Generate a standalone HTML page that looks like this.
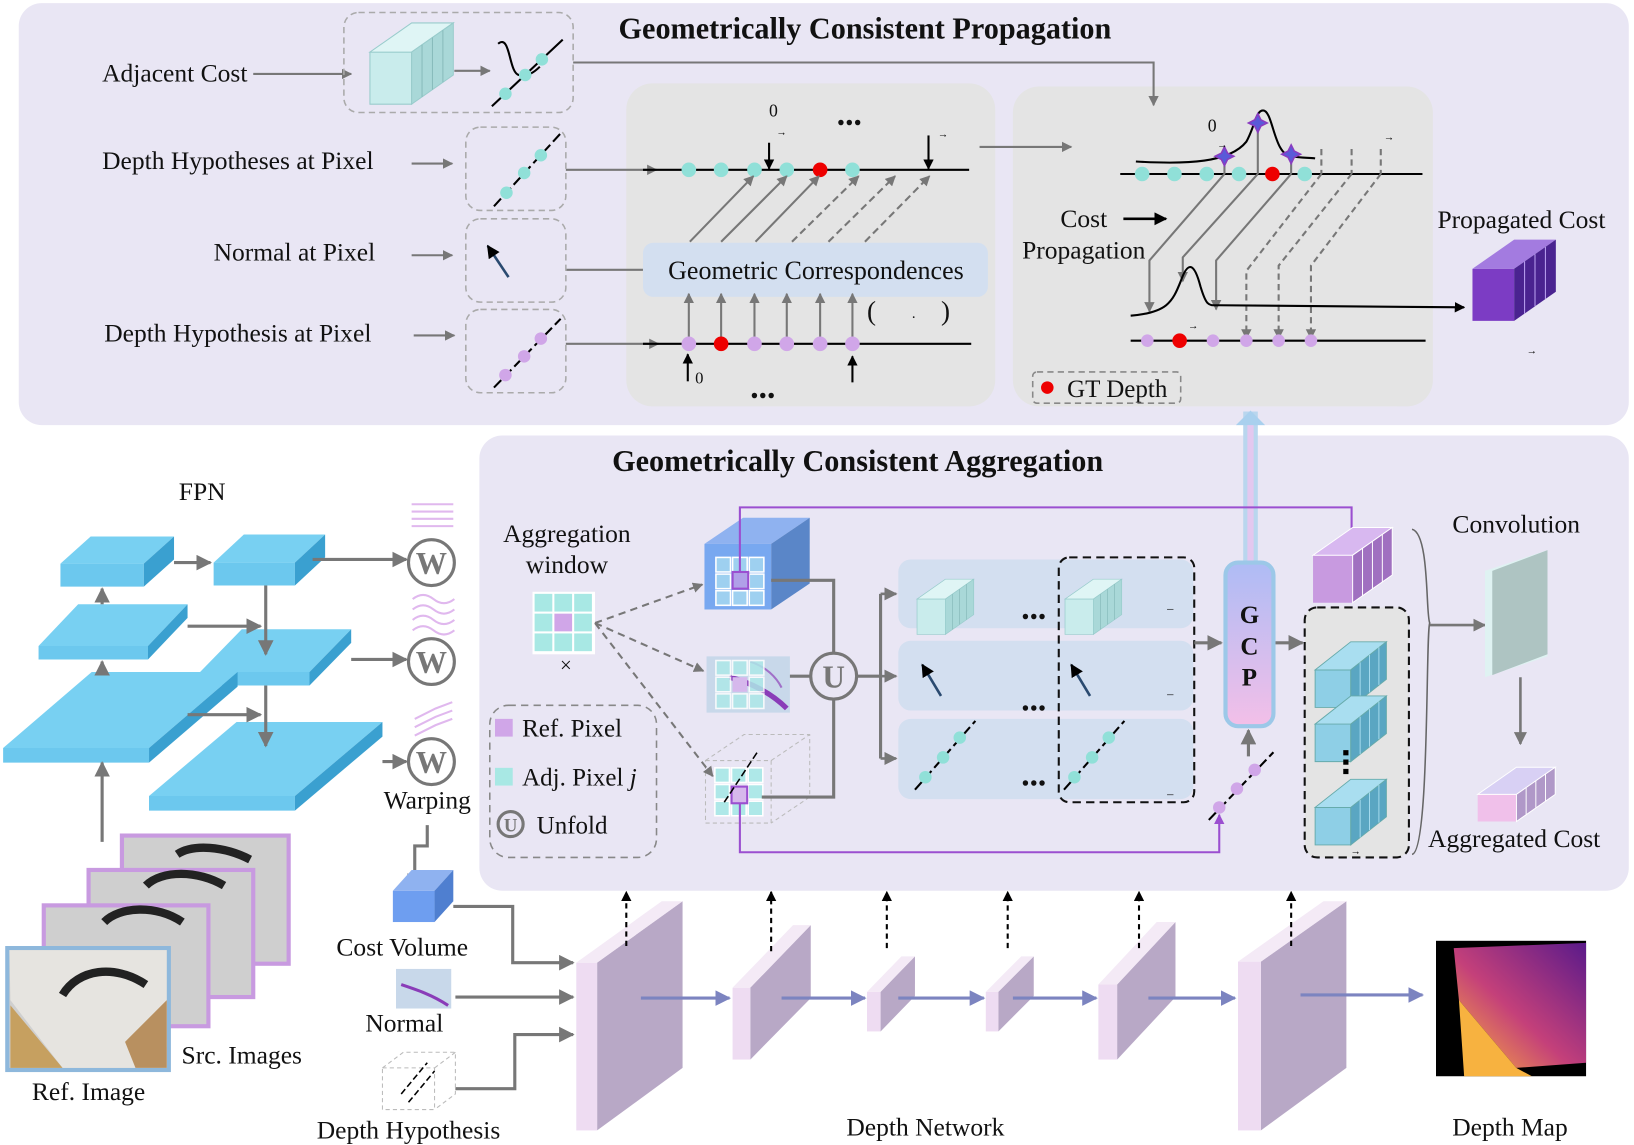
<!DOCTYPE html>
<html><head><meta charset="utf-8"><style>html,body{margin:0;padding:0;background:#fff}svg{display:block}text{font-family:"Liberation Serif",serif;fill:#111}</style></head><body>
<svg width="1634" height="1145" viewBox="0 0 1568 1099" preserveAspectRatio="none" xmlns="http://www.w3.org/2000/svg">
<defs>
<marker id="ag" viewBox="0 0 10 10" refX="9" refY="5" markerWidth="5" markerHeight="5" orient="auto"><path d="M0,0L10,5L0,10z" fill="#777"/></marker>
<marker id="ak" viewBox="0 0 10 10" refX="9" refY="5" markerWidth="5" markerHeight="5" orient="auto"><path d="M0,0L10,5L0,10z" fill="#000"/></marker>
<marker id="ap" viewBox="0 0 10 10" refX="9" refY="5" markerWidth="5" markerHeight="5" orient="auto"><path d="M0,0L10,5L0,10z" fill="#9b4fd0"/></marker>
<marker id="ab" viewBox="0 0 10 10" refX="9" refY="5" markerWidth="5" markerHeight="5" orient="auto"><path d="M0,0L10,5L0,10z" fill="#7c84c0"/></marker>
<linearGradient id="gcp" x1="0" y1="0" x2="0" y2="1"><stop offset="0" stop-color="#aebcf5"/><stop offset="1" stop-color="#f3bfe8"/></linearGradient>
<linearGradient id="dm" x1="0" y1="1" x2="1" y2="0"><stop offset="0" stop-color="#fcb33a"/><stop offset="0.45" stop-color="#c4407a"/><stop offset="1" stop-color="#5a1a8a"/></linearGradient>
<g id="tstack"><polygon points="0,22 40,22 40,72 0,72" fill="#c9ecec" stroke="#9cc" /><polygon points="0,22 40,22 80,-6 40,-6" fill="#dff5f5" stroke="#9cc"/><polygon points="40,22 80,-6 80,44 40,72" fill="#a9d8d8" stroke="#9cc"/><path d="M50,15v50M60,8v50M70,1v50" stroke="#8bb" fill="none"/></g>
<g id="bstack"><polygon points="0,20 38,20 38,60 0,60" fill="#8ecfe6" stroke="#6aa"/><polygon points="0,20 38,20 76,-10 38,-10" fill="#a9def0" stroke="#6aa"/><polygon points="38,20 76,-10 76,30 38,60" fill="#5aa6c2" stroke="#6aa"/><path d="M48,12v40M58,4v40M68,-4v40" stroke="#a9def0" fill="none"/></g>
<g id="pstack"><polygon points="0,22 40,22 40,72 0,72" fill="#7c3cc4" /><polygon points="0,22 40,22 80,-6 40,-6" fill="#a37be0"/><polygon points="40,22 80,-6 80,44 40,72" fill="#4a2390"/><path d="M50,15v50M60,8v50M70,1v50" stroke="#b9a0f0" fill="none"/></g>
</defs>
<rect width="1568" height="1099" fill="#fff"/>
<!-- top panel -->
<rect x="18" y="3" width="1545" height="405" rx="22" fill="#e9e6f4"/>
<rect x="601" y="80" width="354" height="310" rx="25" fill="#e4e4e4"/>
<rect x="972" y="83" width="403" height="307" rx="25" fill="#e4e4e4"/>
<text x="830" y="37" font-size="29" font-weight="bold" text-anchor="middle">Geometrically Consistent Propagation</text>
<g font-size="24.5">
<text x="98" y="78">Adjacent Cost</text>
<text x="98" y="162">Depth Hypotheses at Pixel</text>
<text x="205" y="250">Normal at Pixel</text>
<text x="100" y="328">Depth Hypothesis at Pixel</text>
</g>
<g stroke="#777" stroke-width="2" fill="none" marker-end="url(#ag)">
<path d="M243,71H337"/><path d="M395,157H434"/><path d="M395,245H434"/><path d="M397,322H436"/>
<path d="M550,60H1107V101"/><path d="M543,163H630"/><path d="M543,259H632"/><path d="M543,330H632"/><path d="M940,141H1028"/>
</g>
<g fill="none" stroke="#aaa" stroke-width="1.5" stroke-dasharray="6,4">
<rect x="330" y="12" width="220" height="96" rx="14"/><rect x="447" y="122" width="96" height="80" rx="14"/><rect x="447" y="210" width="96" height="80" rx="14"/><rect x="447" y="297" width="96" height="80" rx="14"/>
</g>
<use href="#tstack" x="355" y="28"/>
<path d="M436,68H470" stroke="#777" stroke-width="2" marker-end="url(#ag)"/>
<path d="M472,102L540,38" stroke="#000" stroke-width="2"/><path d="M478,42C490,32 488,70 498,72C505,74 512,70 518,64" stroke="#000" stroke-width="2" fill="none"/>
<g fill="#90e0d8"><circle cx="485" cy="90" r="6"/><circle cx="504" cy="72" r="6"/><circle cx="520" cy="57" r="6"/></g>
<path d="M474,198L538,128" stroke="#000" stroke-width="2" stroke-dasharray="10,4"/>
<g fill="#90e0d8"><circle cx="486" cy="185" r="6"/><circle cx="503" cy="166" r="6"/><circle cx="519" cy="149" r="6"/></g>
<path d="M488,266L468,236" stroke="#2a4a70" stroke-width="2.5" marker-end="url(#ak)"/>
<path d="M474,372L538,306" stroke="#000" stroke-width="2" stroke-dasharray="10,4"/>
<g fill="#d0a6e8"><circle cx="485" cy="360" r="6"/><circle cx="503" cy="342" r="6"/><circle cx="519" cy="325" r="6"/></g>
<!-- middle gray panel content -->
<path d="M617,163H930" stroke="#000" stroke-width="2"/>
<g fill="#90e0d8"><circle cx="661" cy="163" r="7"/><circle cx="692" cy="163" r="7"/><circle cx="724" cy="163" r="7"/><circle cx="755" cy="163" r="7"/><circle cx="818" cy="163" r="7"/></g>
<circle cx="787" cy="163" r="7" fill="#e00"/>
<g stroke="#000" stroke-width="2" marker-end="url(#ak)"><path d="M738,137V162"/><path d="M891,130V162"/></g>
<text x="738" y="112" font-size="17" font-family="Liberation Sans">0</text>
<text x="803" y="120" font-size="32" font-weight="bold">...</text>
<text x="745" y="130" font-size="10">→</text><text x="900" y="132" font-size="10">→</text>
<g stroke="#777" stroke-width="2" fill="none" marker-end="url(#ag)">
<path d="M662,232L723,169"/><path d="M692,232L755,169"/><path d="M725,232L786,169"/>
<path d="M760,232L824,169" stroke-dasharray="7,4"/><path d="M795,232L859,169" stroke-dasharray="7,4"/><path d="M830,232L892,169" stroke-dasharray="7,4"/>
</g>
<rect x="617" y="233" width="331" height="52" rx="10" fill="#d3dff0"/>
<text x="783" y="268" font-size="25" text-anchor="middle">Geometric Correspondences</text>
<g stroke="#777" stroke-width="2" marker-end="url(#ag)"><path d="M661,330V282"/><path d="M692,330V282"/><path d="M724,330V282"/><path d="M755,330V282"/><path d="M787,330V282"/><path d="M818,330V282"/></g>
<text x="832" y="307" font-size="26">(</text><text x="875" y="305" font-size="14">.</text><text x="903" y="307" font-size="26">)</text>
<path d="M617,330H932" stroke="#000" stroke-width="2"/>
<g fill="#d0a6e8"><circle cx="661" cy="330" r="7"/><circle cx="724" cy="330" r="7"/><circle cx="755" cy="330" r="7"/><circle cx="787" cy="330" r="7"/><circle cx="818" cy="330" r="7"/></g>
<circle cx="692" cy="330" r="7" fill="#e00"/>
<g stroke="#000" stroke-width="2" marker-end="url(#ak)"><path d="M660,366V340"/><path d="M818,367V342"/></g>
<text x="667" y="368" font-size="16" font-family="Liberation Sans">0</text>
<text x="720" y="382" font-size="32" font-weight="bold">...</text>
<!-- right gray panel content -->
<path d="M1075,167H1365" stroke="#000" stroke-width="2"/>
<path d="M1090,155C1140,158 1180,156 1196,136C1204,122 1205,106 1212,106C1222,106 1222,150 1240,150C1250,152 1255,151 1262,152" stroke="#000" stroke-width="2" fill="none"/>
<g stroke="#777" stroke-width="2"><path d="M1175,150V167"/><path d="M1207,118V167"/><path d="M1239,148V167"/></g>
<g stroke="#777" stroke-width="2" stroke-dasharray="6,4"><path d="M1268,143V167"/><path d="M1297,143V167"/><path d="M1325,143V167"/></g>
<g fill="#90e0d8"><circle cx="1096" cy="167" r="7"/><circle cx="1127" cy="167" r="7"/><circle cx="1158" cy="167" r="7"/><circle cx="1189" cy="167" r="7"/><circle cx="1252" cy="167" r="7"/></g>
<circle cx="1221" cy="167" r="7" fill="#e00"/>
<g fill="#5a5ad8" stroke="#8a3cc0" stroke-width="1.5"><polygon points="1175,141 1178,147 1184,150 1178,153 1175,159 1172,153 1166,150 1172,147"/><polygon points="1207,109 1210,115 1216,118 1210,121 1207,127 1204,121 1198,118 1204,115"/><polygon points="1239,139 1242,145 1248,148 1242,151 1239,157 1236,151 1230,148 1236,145"/></g>
<text x="1159" y="126" font-size="17" font-family="Liberation Sans">0</text>
<text x="1168" y="142" font-size="10">→</text><text x="1328" y="135" font-size="10">→</text>
<text x="1040" y="218" font-size="24.5" text-anchor="middle">Cost</text>
<text x="1040" y="248" font-size="24.5" text-anchor="middle">Propagation</text>
<path d="M1078,210H1119" stroke="#000" stroke-width="2.5" marker-end="url(#ak)"/>
<g stroke="#777" stroke-width="2" fill="none" marker-end="url(#ag)">
<path d="M1175,167L1103,250V299"/><path d="M1207,167L1135,247V270"/><path d="M1239,167L1167,250V297"/>
<g stroke-dasharray="6,4"><path d="M1268,167L1196,260V325"/><path d="M1297,167L1227,255V325"/><path d="M1325,167L1258,255V325"/></g>
</g>
<path d="M1085,303C1120,300 1125,290 1133,270C1140,250 1146,252 1152,275C1158,295 1160,293 1170,293L1405,295" stroke="#000" stroke-width="2" fill="none" marker-end="url(#ak)"/>
<path d="M1085,327H1368" stroke="#000" stroke-width="2"/>
<g fill="#d0a6e8"><circle cx="1101" cy="327" r="6"/><circle cx="1164" cy="327" r="6"/><circle cx="1196" cy="327" r="6"/><circle cx="1227" cy="327" r="6"/><circle cx="1258" cy="327" r="6"/></g>
<circle cx="1132" cy="327" r="7" fill="#e00"/>
<text x="1140" y="316" font-size="10">→</text>
<rect x="991" y="357" width="142" height="30" rx="4" fill="none" stroke="#888" stroke-width="1.5" stroke-dasharray="6,4"/>
<circle cx="1005" cy="372" r="6" fill="#e00"/>
<text x="1024" y="381" font-size="24">GT Depth</text>
<text x="1460" y="219" font-size="24.5" text-anchor="middle">Propagated Cost</text>
<use href="#pstack" x="1413" y="236"/>
<text x="1465" y="340" font-size="10">→</text>
<!-- lower panel -->
<rect x="460" y="418" width="1103" height="437" rx="22" fill="#e9e6f4"/>
<text x="823" y="452" font-size="29" font-weight="bold" text-anchor="middle">Geometrically Consistent Aggregation</text>
<rect x="1193" y="395" width="14" height="150" fill="#b9d6ee"/><rect x="1197" y="400" width="6" height="145" fill="#e3c8ef"/>
<polygon points="1186,408 1200,394 1214,408" fill="#a9d0ee"/>
<text x="544" y="520" font-size="24.5" text-anchor="middle">Aggregation</text>
<text x="544" y="550" font-size="24.5" text-anchor="middle">window</text>
<rect x="511" y="568" width="60" height="60" fill="#fff"/>
<g fill="#a8e8e4"><rect x="513" y="570" width="17" height="17"/><rect x="532" y="570" width="17" height="17"/><rect x="551" y="570" width="17" height="17"/><rect x="513" y="589" width="17" height="17"/><rect x="551" y="589" width="17" height="17"/><rect x="513" y="608" width="17" height="17"/><rect x="532" y="608" width="17" height="17"/><rect x="551" y="608" width="17" height="17"/></g>
<rect x="532" y="589" width="17" height="17" fill="#d0a6e8"/>
<text x="543" y="645" font-size="20" text-anchor="middle" font-family="Liberation Sans">×</text>
<!-- blue cube -->
<polygon points="676,522 740,522 777,497 713,497" fill="#8fb2f0"/><polygon points="740,522 777,497 777,560 740,585" fill="#5a86c8"/><rect x="676" y="522" width="64" height="63" fill="#78a8f0"/>
<g fill="#9ed0f0" stroke="#fff" stroke-width="1.5"><rect x="687" y="535" width="14" height="14"/><rect x="703" y="535" width="14" height="14"/><rect x="719" y="535" width="14" height="14"/><rect x="687" y="551" width="14" height="14"/><rect x="719" y="551" width="14" height="14"/><rect x="687" y="567" width="14" height="14"/><rect x="703" y="567" width="14" height="14"/><rect x="719" y="567" width="14" height="14"/></g>
<rect x="703" y="549" width="15" height="16" fill="#b0a0e8" stroke="#9b4fd0" stroke-width="2"/>
<path d="M710,549V487H1297V520" stroke="#9b4fd0" stroke-width="2" fill="none" marker-end="url(#ap)"/>
<!-- normal img -->
<rect x="678" y="630" width="80" height="54" fill="#c8d8ea"/>
<path d="M700,650C720,655 740,665 755,680" stroke="#8a3cb8" stroke-width="5" fill="none"/><path d="M720,635C735,640 745,650 750,660" stroke="#a070c8" stroke-width="2" fill="none"/>
<g fill="#aee8e8" stroke="#fff" stroke-width="1.5" opacity="0.85"><rect x="687" y="634" width="14" height="14"/><rect x="703" y="634" width="14" height="14"/><rect x="719" y="634" width="14" height="14"/><rect x="687" y="650" width="14" height="14"/><rect x="719" y="650" width="14" height="14"/><rect x="687" y="666" width="14" height="14"/><rect x="703" y="666" width="14" height="14"/><rect x="719" y="666" width="14" height="14"/></g>
<rect x="703" y="650" width="14" height="14" fill="#d6b8ec"/>
<!-- dashed cube -->
<g fill="none" stroke="#bbb" stroke-dasharray="4,3"><rect x="677" y="730" width="63" height="60"/><path d="M677,730L714,705H777V765L740,790M740,730L777,705"/></g>
<g fill="#aee8e8" stroke="#fff" stroke-width="1.5"><rect x="686" y="737" width="14" height="14"/><rect x="702" y="737" width="14" height="14"/><rect x="718" y="737" width="14" height="14"/><rect x="686" y="753" width="14" height="14"/><rect x="718" y="753" width="14" height="14"/><rect x="686" y="769" width="14" height="14"/><rect x="702" y="769" width="14" height="14"/><rect x="718" y="769" width="14" height="14"/></g>
<rect x="702" y="755" width="15" height="16" fill="#d6b8ec" stroke="#9b4fd0" stroke-width="2"/>
<path d="M695,770L728,720" stroke="#000" stroke-width="1.5" stroke-dasharray="7,3"/>
<path d="M710,771V818H1170V782" stroke="#9b4fd0" stroke-width="2" fill="none" marker-end="url(#ap)"/>
<g stroke="#777" stroke-width="2" stroke-dasharray="7,5" fill="none" marker-end="url(#ag)"><path d="M571,598L674,561"/><path d="M571,598L675,644"/><path d="M571,598L684,745"/></g>
<!-- U -->
<g stroke="#777" stroke-width="3" fill="none"><path d="M740,557H800V627"/><path d="M758,649H778"/><path d="M731,765H800V671"/><circle cx="800" cy="649" r="22"/><path d="M822,649H845M845,570V728"/></g>
<text x="800" y="660" font-size="30" font-weight="bold" text-anchor="middle" font-family="Liberation Sans" style="fill:#777">U</text>
<g stroke="#777" stroke-width="2.5" marker-end="url(#ag)"><path d="M845,570H860"/><path d="M845,649H860"/><path d="M845,728H860"/></g>
<g fill="#d3dff0"><rect x="862" y="537" width="283" height="66" rx="12"/><rect x="862" y="615" width="283" height="67" rx="12"/><rect x="862" y="690" width="283" height="77" rx="12"/></g>
<g transform="translate(880,560) scale(0.68)"><use href="#tstack"/></g>
<g transform="translate(1022,560) scale(0.68)"><use href="#tstack"/></g>
<g stroke="#2a4a70" stroke-width="2.5" marker-end="url(#ak)"><path d="M903,668L885,638"/><path d="M1046,668L1028,638"/></g>
<g stroke="#000" stroke-width="2" stroke-dasharray="10,4"><path d="M878,758L936,692"/><path d="M1021,758L1079,692"/></g>
<g fill="#90e0d8"><circle cx="888" cy="746" r="6"/><circle cx="905" cy="727" r="6"/><circle cx="921" cy="708" r="6"/><circle cx="1031" cy="746" r="6"/><circle cx="1048" cy="727" r="6"/><circle cx="1064" cy="708" r="6"/></g>
<g font-size="32" font-weight="bold"><text x="980" y="594">...</text><text x="980" y="682">...</text><text x="980" y="754">...</text></g>
<g font-size="12"><text x="1120" y="588">–</text><text x="1120" y="670">–</text><text x="1120" y="766">–</text></g>
<rect x="1016" y="535" width="130" height="235" rx="10" fill="none" stroke="#111" stroke-width="2" stroke-dasharray="8,5"/>
<!-- legend -->
<rect x="470" y="677" width="160" height="146" rx="18" fill="none" stroke="#888" stroke-width="1.5" stroke-dasharray="7,5"/>
<rect x="475" y="690" width="17" height="17" fill="#d0a6e8"/><text x="501" y="707" font-size="24">Ref. Pixel</text>
<rect x="475" y="737" width="17" height="17" fill="#a8e8e4"/><text x="501" y="754" font-size="24">Adj. Pixel <tspan font-style="italic">j</tspan></text>
<circle cx="490" cy="791" r="12" fill="none" stroke="#777" stroke-width="3"/><text x="490" y="798" font-size="18" font-weight="bold" text-anchor="middle" font-family="Liberation Sans" style="fill:#777">U</text><text x="515" y="800" font-size="24">Unfold</text>
<!-- GCP -->
<rect x="1176" y="540" width="46" height="157" rx="12" fill="url(#gcp)" stroke="#9cc8e8" stroke-width="4"/>
<g font-size="24" font-weight="bold" text-anchor="middle"><text x="1199" y="598">G</text><text x="1199" y="628">C</text><text x="1199" y="658">P</text></g>
<g stroke="#777" stroke-width="3" marker-end="url(#ag)"><path d="M1146,617H1172"/><path d="M1224,617H1250"/><path d="M1198,726V701"/></g>
<path d="M1160,787L1222,722" stroke="#000" stroke-width="2" stroke-dasharray="10,4"/>
<g fill="#d0a6e8"><circle cx="1170" cy="775" r="6"/><circle cx="1187" cy="757" r="6"/><circle cx="1204" cy="739" r="6"/></g>
<g transform="translate(1260,512) scale(0.95)"><polygon points="0,22 40,22 40,70 0,70" fill="#c89ae0"/><polygon points="0,22 40,22 80,-6 40,-6" fill="#d8b8f0" stroke="#fff"/><polygon points="40,22 80,-6 80,42 40,70" fill="#a070c0" stroke="#fff"/><path d="M50,15v48M60,8v48M70,1v48" stroke="#fff" fill="none"/></g>
<rect x="1252" y="583" width="100" height="240" rx="12" fill="#e4e4e4" stroke="#111" stroke-width="2" stroke-dasharray="8,5"/>
<g transform="translate(1262,625) scale(0.9)"><use href="#bstack"/></g>
<g transform="translate(1262,677) scale(0.9)"><use href="#bstack"/></g>
<g transform="translate(1262,757) scale(0.9)"><use href="#bstack"/></g>
<g fill="#000"><rect x="1289" y="738" width="5" height="5"/><rect x="1289" y="729" width="5" height="5"/><rect x="1289" y="720" width="5" height="5"/></g>
<text x="1296" y="820" font-size="10">→</text>
<path d="M1355,508C1372,512 1368,590 1372,598C1368,606 1372,818 1355,820" stroke="#666" stroke-width="1.5" fill="none"/>
<path d="M1372,600H1425" stroke="#777" stroke-width="2.5" marker-end="url(#ag)"/>
<text x="1455" y="511" font-size="24.5" text-anchor="middle">Convolution</text>
<polygon points="1425,548 1485,528 1485,630 1425,650" fill="#dff2f2"/><polygon points="1432,548 1485,528 1485,628 1432,648" fill="#aec4c2"/>
<path d="M1459,650V714" stroke="#777" stroke-width="2.5" marker-end="url(#ag)"/>
<g transform="translate(1418,742) scale(0.93)"><polygon points="0,22 40,22 40,50 0,50" fill="#f0c0ea"/><polygon points="0,22 40,22 80,-6 40,-6" fill="#d8d0f4" stroke="#fff"/><polygon points="40,22 80,-6 80,22 40,50" fill="#b098c8" stroke="#fff"/><path d="M50,15v28M60,8v28M70,1v28" stroke="#fff" fill="none"/></g>
<text x="1453" y="813" font-size="24.5" text-anchor="middle">Aggregated Cost</text>
<!-- FPN -->
<text x="194" y="480" font-size="24.5" text-anchor="middle">FPN</text>
<g>
<polygon points="58,541 138,541 167,515 87,515" fill="#78d0f2"/><polygon points="58,541 138,541 138,563 58,563" fill="#6cc8ee"/><polygon points="138,541 167,515 167,537 138,563" fill="#3aa0d0"/>
<polygon points="205,540 283,540 312,513 234,513" fill="#78d0f2"/><polygon points="205,540 283,540 283,562 205,562" fill="#6cc8ee"/><polygon points="283,540 312,513 312,535 283,562" fill="#3aa0d0"/>
<polygon points="37,620 142,620 180,580 75,580" fill="#78d0f2"/><polygon points="37,620 142,620 142,633 37,633" fill="#6cc8ee"/><polygon points="142,620 180,580 180,593 142,633" fill="#3aa0d0"/>
<polygon points="192,645 297,645 337,604 232,604" fill="#78d0f2"/><polygon points="192,645 297,645 297,658 192,658" fill="#6cc8ee"/><polygon points="297,645 337,604 337,617 297,658" fill="#3aa0d0"/>
<polygon points="3,718 143,718 228,645 88,645" fill="#78d0f2"/><polygon points="3,718 143,718 143,732 3,732" fill="#6cc8ee"/><polygon points="143,718 228,645 228,659 143,732" fill="#3aa0d0"/>
<polygon points="143,764 283,764 367,693 227,693" fill="#78d0f2"/><polygon points="143,764 283,764 283,778 143,778" fill="#6cc8ee"/><polygon points="283,764 367,693 367,707 283,778" fill="#3aa0d0"/>
</g>
<g stroke="#777" stroke-width="3" fill="none" marker-end="url(#ag)">
<path d="M167,540H202"/><path d="M98,580V565"/><path d="M98,645V635"/><path d="M98,808V732"/><path d="M180,601H250"/><path d="M255,562V628"/><path d="M180,686H250"/><path d="M255,658V716"/>
<path d="M300,537H390"/><path d="M337,633H390"/><path d="M367,731H390"/>
<path d="M410,792V812H398V852"/>
<path d="M435,870H492V924H550"/><path d="M437,957H550"/><path d="M437,1045H494V993H550"/>
</g>
<g stroke="#777" stroke-width="3" fill="#fff"><circle cx="414" cy="540" r="22"/><circle cx="414" cy="635" r="22"/><circle cx="414" cy="731" r="22"/></g>
<g font-size="30" font-weight="bold" text-anchor="middle" font-family="Liberation Sans" style="fill:#777"><text x="414" y="551" style="fill:#777">W</text><text x="414" y="646" style="fill:#777">W</text><text x="414" y="742" style="fill:#777">W</text></g>
<g stroke="#e0b8ee" stroke-width="2" fill="none"><path d="M395,484H435M395,491H435M395,498H435M395,505H435"/><path d="M396,575q10,-8 20,0t20,0M396,585q10,-8 20,0t20,0M396,595q10,-8 20,0t20,0M396,605q10,-8 20,0t20,0"/><path d="M398,690l20,-10 16,-6M398,698l20,-10 16,-6M398,706l20,-10 16,-6"/></g>
<text x="410" y="776" font-size="24.5" text-anchor="middle">Warping</text>
<polygon points="377,855 417,855 435,835 395,835" fill="#8fb2f0"/><rect x="377" y="855" width="40" height="30" fill="#6e9ef0"/><polygon points="417,855 435,835 435,865 417,885" fill="#4f7fd0"/>
<text x="386" y="917" font-size="24.5" text-anchor="middle">Cost Volume</text>
<rect x="380" y="930" width="53" height="38" fill="#c8d8ea"/><path d="M385,945C400,950 415,955 430,965" stroke="#8a3cb8" stroke-width="3" fill="none"/>
<text x="388" y="990" font-size="24.5" text-anchor="middle">Normal</text>
<g fill="none" stroke="#bbb" stroke-dasharray="4,3"><rect x="367" y="1025" width="50" height="40"/><path d="M367,1025L387,1010H437V1050L417,1065M417,1025L437,1010"/></g>
<path d="M385,1050L410,1020M392,1058L417,1028" stroke="#000" stroke-width="1.5" stroke-dasharray="6,3"/>
<text x="392" y="1093" font-size="24.5" text-anchor="middle">Depth Hypothesis</text>
<!-- images -->
<g stroke-width="4" fill="#cfcfcf">
<rect x="117" y="802" width="160" height="123" stroke="#c89ae0"/>
<rect x="85" y="835" width="158" height="122" stroke="#c89ae0"/>
<rect x="42" y="869" width="158" height="116" stroke="#c89ae0"/>
<rect x="7" y="910" width="155" height="117" stroke="#8eb8dc"/>
</g>
<polygon points="9,912 160,912 160,1025 60,1025 10,960" fill="#e6e4e0"/><polygon points="10,965 60,1025 10,1025" fill="#c6a060"/><polygon points="120,1000 160,960 160,1025 130,1025" fill="#b89060"/>
<path d="M60,955C75,930 110,925 140,945" stroke="#222" stroke-width="8" fill="none"/>
<path d="M100,885C115,870 150,868 175,885" stroke="#222" stroke-width="8" fill="none"/>
<path d="M140,850C155,835 190,835 215,850" stroke="#222" stroke-width="8" fill="none"/>
<path d="M170,820C185,810 215,812 240,825" stroke="#222" stroke-width="8" fill="none"/>
<text x="232" y="1021" font-size="24.5" text-anchor="middle">Src. Images</text>
<text x="85" y="1056" font-size="24.5" text-anchor="middle">Ref. Image</text>
<!-- depth network -->
<g>
<polygon points="573,924 655,865 655,1025 573,1085" fill="#b8a8c6"/><rect x="553" y="924" width="20" height="161" fill="#eedcf2"/><polygon points="553,924 573,924 655,865 635,865" fill="#f4eaf6"/>
<polygon points="720,948 778,888 778,958 720,1017" fill="#b8a8c6"/><rect x="703" y="948" width="17" height="69" fill="#eedcf2"/><polygon points="703,948 720,948 778,888 761,888" fill="#f4eaf6"/>
<polygon points="845,952 878,918 878,956 845,990" fill="#b8a8c6"/><rect x="832" y="952" width="13" height="38" fill="#eedcf2"/><polygon points="832,952 845,952 878,918 865,918" fill="#f4eaf6"/>
<polygon points="958,952 992,918 992,956 958,990" fill="#b8a8c6"/><rect x="946" y="952" width="12" height="38" fill="#eedcf2"/><polygon points="946,952 958,952 992,918 980,918" fill="#f4eaf6"/>
<polygon points="1072,945 1128,885 1128,957 1072,1017" fill="#b8a8c6"/><rect x="1054" y="945" width="18" height="72" fill="#eedcf2"/><polygon points="1054,945 1072,945 1128,885 1110,885" fill="#f4eaf6"/>
<polygon points="1210,923 1292,865 1292,1025 1210,1085" fill="#b8a8c6"/><rect x="1188" y="923" width="22" height="162" fill="#eedcf2"/><polygon points="1188,923 1210,923 1292,865 1270,865" fill="#f4eaf6"/>
</g>
<g stroke="#7c84c0" stroke-width="3" marker-end="url(#ab)"><path d="M615,958H700"/><path d="M750,958H830"/><path d="M862,958H944"/><path d="M972,958H1052"/><path d="M1102,958H1185"/><path d="M1248,955H1365"/></g>
<g stroke="#000" stroke-width="2" stroke-dasharray="5,4" marker-end="url(#ak)"><path d="M601,908V856"/><path d="M740,913V856"/><path d="M851,910V856"/><path d="M967,910V856"/><path d="M1093,910V856"/><path d="M1239,908V856"/></g>
<text x="888" y="1090" font-size="24.5" text-anchor="middle">Depth Network</text>
<rect x="1378" y="903" width="144" height="130" fill="#000"/>
<polygon points="1395,910 1522,905 1522,1020 1455,1025 1400,960" fill="url(#dm)"/>
<polygon points="1400,960 1455,1025 1470,1033 1405,1033" fill="#f7b240"/>
<text x="1449" y="1090" font-size="24.5" text-anchor="middle">Depth Map</text>
</svg>
</body></html>
